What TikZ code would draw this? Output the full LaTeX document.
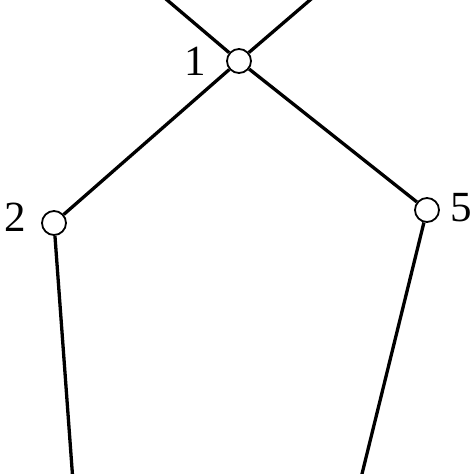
\documentclass[tikz,border=0pt]{standalone}
\usepackage{fontspec}
\setmainfont{Liberation Serif}
\begin{document}
\begin{tikzpicture}[x=1pt,y=-1pt,
  vtx/.style={circle,draw,line width=1.8pt,minimum size=24pt,inner sep=0pt,fill=white},
  lab/.style={font=\fontsize{43}{43}\selectfont,inner sep=0pt},
  edge/.style={line width=3.3pt}]
\useasboundingbox (0,0) rectangle (474,474);
\clip (0,0) rectangle (474,474);
\node[vtx] (n1) at (239,61) {};
\node[vtx] (n2) at (54,223) {};
\node[vtx] (n5) at (427,210) {};
\node[lab] (l1) at (195,61) {1};
\node[lab] (l2) at (15,217) {2};
\node[lab] (l5) at (461,208) {5};
\coordinate (tl) at (160,-6);
\coordinate (tr) at (317,-6);
\coordinate (bl) at (73,482);
\coordinate (br) at (360,482);
\draw[edge] (n1) -- (tl);
\draw[edge] (n1) -- (tr);
\draw[edge] (n1) -- (n2);
\draw[edge] (n1) -- (n5);
\draw[edge] (n2) -- (bl);
\draw[edge] (n5) -- (br);
\end{tikzpicture}
\end{document}
